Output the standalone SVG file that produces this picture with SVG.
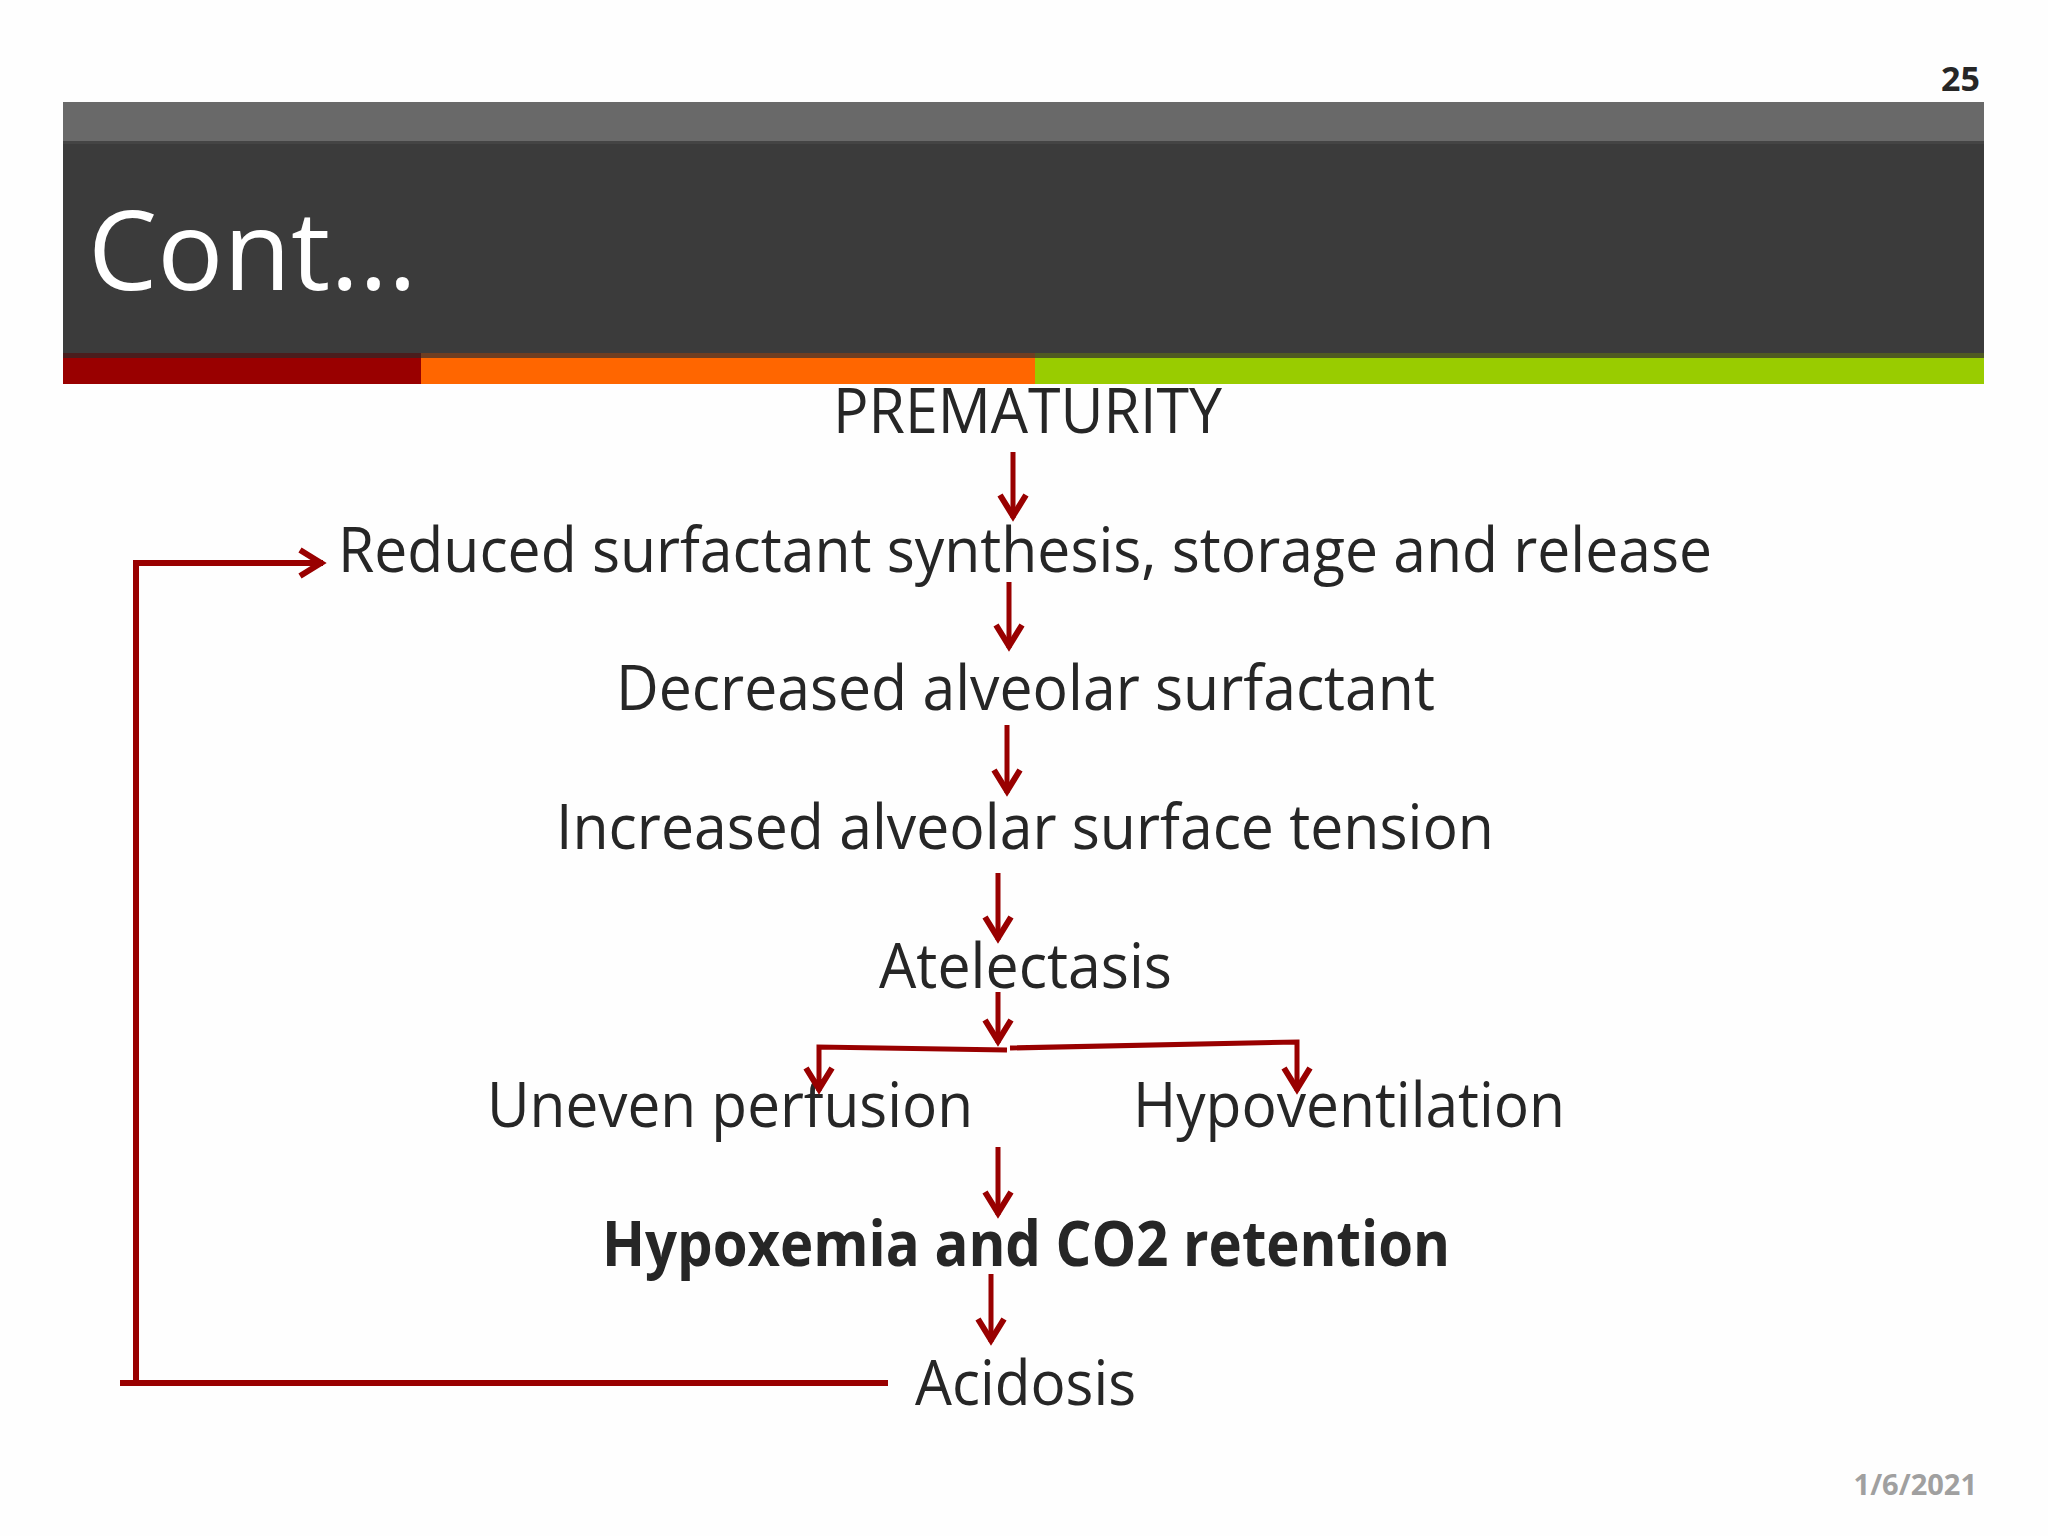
<svg xmlns="http://www.w3.org/2000/svg" width="2048" height="1536" viewBox="0 0 2048 1536">
  <style>
    .t { font-family: "Open Sans", "Liberation Sans", sans-serif; font-size: 62px; fill: #262626; }
    .b { font-weight: bold; }
    .c { fill: none; stroke: #990000; stroke-width: 5; stroke-linecap: butt; stroke-linejoin: miter; }
    .w { stroke-width: 6; }
  </style>
  <defs>
    <marker id="ah" markerUnits="userSpaceOnUse" markerWidth="40" markerHeight="40" viewBox="-30 -20 40 40" refX="0" refY="0" orient="auto">
      <path d="M-23,-13 L-2,0 L-23,13" fill="none" stroke="#990000" stroke-width="6"/>
    </marker>
  </defs>
  <rect width="2048" height="1536" fill="#fefefe"/>

  <g id="header">
    <rect x="63" y="102" width="1921" height="39" fill="#696969"/>
    <rect x="63" y="141" width="1921" height="212" fill="#3b3b3b"/>
    <rect x="63" y="141" width="1921" height="3" fill="#444444"/>
    <rect x="63" y="353" width="358" height="5" fill="#4a1d1d"/>
    <rect x="421" y="353" width="614" height="5" fill="#6e3e22"/>
    <rect x="1035" y="353" width="949" height="5" fill="#4f5a22"/>
    <rect x="63" y="358" width="358" height="26" fill="#990000"/>
    <rect x="421" y="358" width="614" height="26" fill="#ff6600"/>
    <rect x="1035" y="358" width="949" height="26" fill="#99cc00"/>
    <text x="88" y="290" font-family="Open Sans, Liberation Sans, sans-serif" font-size="110" fill="#ffffff">Cont...</text>
    <text x="1980" y="91" text-anchor="end" font-family="Open Sans, Liberation Sans, sans-serif" font-size="34" font-weight="bold" fill="#262626">25</text>
    <text x="1977" y="1495" text-anchor="end" font-family="Open Sans, Liberation Sans, sans-serif" font-size="29" font-weight="bold" fill="#a0a0a0">1/6/2021</text>
  </g>

  <g id="n-prematurity"><text class="t" x="833" y="433" textLength="389" lengthAdjust="spacingAndGlyphs">PREMATURITY</text></g>
  <g id="n-reduced"><text class="t" x="338" y="572" textLength="1374" lengthAdjust="spacingAndGlyphs">Reduced surfactant synthesis, storage and release</text></g>
  <g id="n-decreased"><text class="t" x="616" y="710" textLength="819" lengthAdjust="spacingAndGlyphs">Decreased alveolar surfactant</text></g>
  <g id="n-increased"><text class="t" x="556" y="849" textLength="938" lengthAdjust="spacingAndGlyphs">Increased alveolar surface tension</text></g>
  <g id="n-atelectasis"><text class="t" x="879" y="988" textLength="293" lengthAdjust="spacingAndGlyphs">Atelectasis</text></g>
  <g id="n-uneven"><text class="t" x="487" y="1127" textLength="486" lengthAdjust="spacingAndGlyphs">Uneven perfusion</text></g>
  <g id="n-hypovent"><text class="t" x="1133" y="1127" textLength="432" lengthAdjust="spacingAndGlyphs">Hypoventilation</text></g>
  <g id="n-hypoxemia"><text class="t b" x="602" y="1266" textLength="848" lengthAdjust="spacingAndGlyphs">Hypoxemia and CO2 retention</text></g>
  <g id="n-acidosis"><text class="t" x="915" y="1405" textLength="221" lengthAdjust="spacingAndGlyphs">Acidosis</text></g>

  <g id="connectors">
    <line class="c" x1="1013" y1="452" x2="1013" y2="518" marker-end="url(#ah)"/>
    <line class="c" x1="1009" y1="582" x2="1009" y2="648" marker-end="url(#ah)"/>
    <line class="c" x1="1007" y1="725" x2="1007" y2="793" marker-end="url(#ah)"/>
    <line class="c" x1="998" y1="873" x2="998" y2="940" marker-end="url(#ah)"/>
    <line class="c" x1="998" y1="992" x2="998" y2="1043" marker-end="url(#ah)"/>
    <polyline class="c" points="1007,1050 819,1047 819,1091" marker-end="url(#ah)"/>
    <polyline class="c" points="1010,1048 1297,1042 1297,1091" marker-end="url(#ah)"/>
    <line class="c" x1="998" y1="1147" x2="998" y2="1215" marker-end="url(#ah)"/>
    <line class="c" x1="991" y1="1274" x2="991" y2="1342" marker-end="url(#ah)"/>
    <line class="c w" x1="120" y1="1383" x2="888" y2="1383"/>
    <polyline class="c w" points="136,1383 136,563 323,563" marker-end="url(#ah)"/>
  </g>
</svg>
